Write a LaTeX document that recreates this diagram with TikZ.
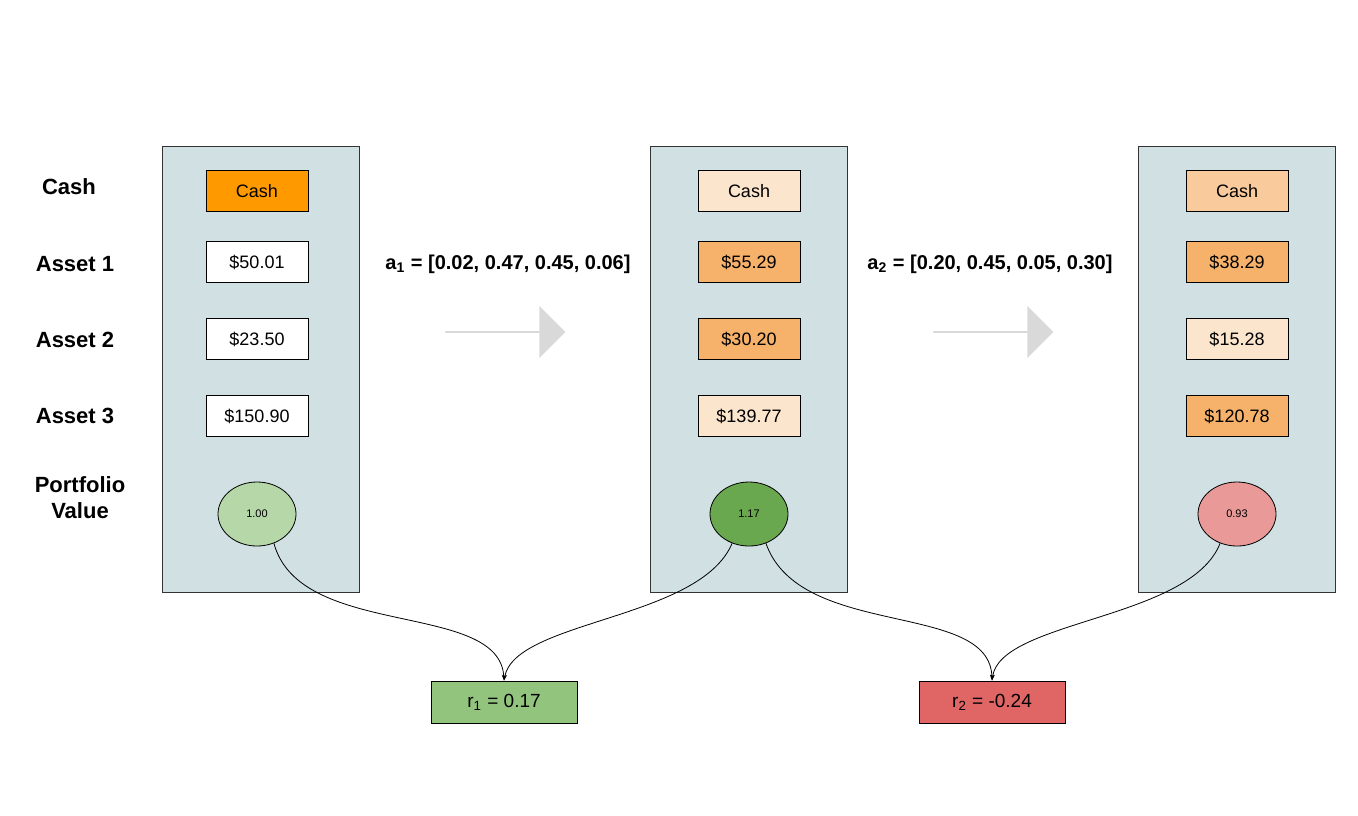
\documentclass[tikz,border=0pt]{standalone}
\usepackage{fontspec}
\setmainfont{Liberation Sans}
\usetikzlibrary{shapes.arrows, shapes.geometric, arrows.meta}
\definecolor{panel}{HTML}{D0E0E3}
\definecolor{cashA}{HTML}{FF9900}
\definecolor{pale}{HTML}{FCE5CD}
\definecolor{mid}{HTML}{F6B26B}
\definecolor{cashC}{HTML}{F9CB9C}
\definecolor{gA}{HTML}{B6D7A8}
\definecolor{gB}{HTML}{6AA84F}
\definecolor{rC}{HTML}{EA9999}
\definecolor{rgood}{HTML}{93C47D}
\definecolor{rbad}{HTML}{E06666}
\tikzset{
  panel/.style={draw=black!80, fill=panel, minimum width=98.5pt, minimum height=223pt, inner sep=0pt, line width=0.4pt},
  val/.style={draw=black, minimum width=51pt, minimum height=20.5pt, inner sep=0pt, font=\fontsize{9}{10}\selectfont},
  pv/.style={draw=black, ellipse, minimum width=39pt, minimum height=32pt, inner sep=0pt, font=\fontsize{5.5}{6}\selectfont},
  lab/.style={font=\fontsize{11}{13}\selectfont\bfseries, align=center},
  reward/.style={draw=black, minimum width=73pt, minimum height=21pt, inner sep=0pt, font=\fontsize{9.5}{11}\selectfont},
  bigarrow/.style={single arrow, fill=black!15, minimum height=60pt, minimum width=26pt, single arrow head extend=6.5pt, inner sep=0pt},
  link/.style={-{Stealth[length=3pt,width=2pt]}, line width=0.4pt}
}
\begin{document}
\begin{tikzpicture}[x=0.5pt, y=-0.5pt]
\useasboundingbox (0,0) rectangle (1358,815);
\node[panel] (p1) at (260.5,369) {};
\node[panel] (p2) at (748.5,369) {};
\node[panel] (p3) at (1236.5,369) {};

\node[lab] (lc) at (69,187) {Cash};
\node[lab] (l1) at (75,264) {Asset 1};
\node[lab] (l2) at (75,340) {Asset 2};
\node[lab] (l3) at (75,416) {Asset 3};
\node[lab] (lp) at (80,498) {Portfolio\\Value};

\node[val, fill=cashA] (c1) at (257,191) {Cash};
\node[val, fill=white] (a11) at (257,262) {\$50.01};
\node[val, fill=white] (a12) at (257,339) {\$23.50};
\node[val, fill=white] (a13) at (257,416) {\$150.90};
\node[pv, fill=gA] (v1) at (257,514) {1.00};

\node[val, fill=pale] (c2) at (749,191) {Cash};
\node[val, fill=mid] (a21) at (749,262) {\$55.29};
\node[val, fill=mid] (a22) at (749,339) {\$30.20};
\node[val, fill=pale] (a23) at (749,416) {\$139.77};
\node[pv, fill=gB] (v2) at (749,514) {1.17};

\node[val, fill=cashC] (c3) at (1237,191) {Cash};
\node[val, fill=mid] (a31) at (1237,262) {\$38.29};
\node[val, fill=pale] (a32) at (1237,339) {\$15.28};
\node[val, fill=mid] (a33) at (1237,416) {\$120.78};
\node[pv, fill=rC] (v3) at (1237,514) {0.93};

\node[lab, font=\fontsize{10}{12}\selectfont\bfseries] (t1) at (508,264) {a\textsubscript{1} = [0.02, 0.47, 0.45, 0.06]};
\node[lab, font=\fontsize{10}{12}\selectfont\bfseries] (t2) at (990,264) {a\textsubscript{2} = [0.20, 0.45, 0.05, 0.30]};
\node[bigarrow] (s1) at (505,332) {};
\node[bigarrow] (s2) at (993,332) {};

\node[reward, fill=rgood] (r1) at (504,702) {r\textsubscript{1} = 0.17};
\node[reward, fill=rbad] (r2) at (992,702) {r\textsubscript{2} = -0.24};

\draw[link] (v1.-60) .. controls (300,640) and (500,600) .. (r1.north);
\draw[link] (v2.-120) .. controls (700,620) and (515,620) .. (r1.north);
\draw[link] (v2.-60) .. controls (800,640) and (990,600) .. (r2.north);
\draw[link] (v3.-120) .. controls (1190,620) and (1000,620) .. (r2.north);
\end{tikzpicture}
\end{document}
